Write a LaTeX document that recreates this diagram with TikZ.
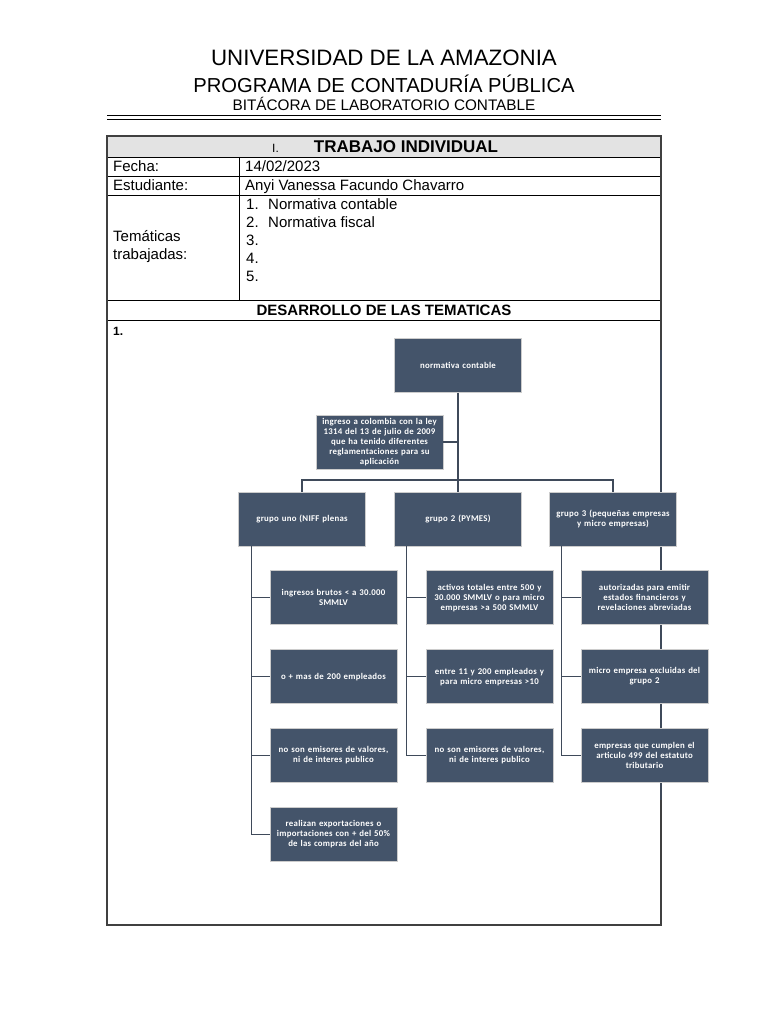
\documentclass[tikz,border=0pt]{standalone}
\usepackage{fontspec}
\setmainfont{Liberation Sans}
\newfontfamily\boxfont[LetterSpace=3]{Carlito}
\usetikzlibrary{positioning}
\definecolor{slate}{HTML}{44546A}
\definecolor{linkgray}{HTML}{3F4A5A}

\begin{document}
\begin{tikzpicture}[x=1pt, y=1pt,
  node distance=24pt and 20pt,
  box/.style={draw=white!80!black, line width=0.8pt, fill=slate, text=white, align=center, inner sep=1pt, minimum width=127pt, minimum height=54pt, text width=125pt, font=\boxfont\bfseries\fontsize{8.8}{10}\selectfont},
  link/.style={draw=linkgray, line width=1.1pt},
  cell/.style={anchor=base west, inner sep=0pt, font=\fontsize{15}{17}\selectfont},
  rule/.style={draw=black, line width=0.8pt}
]
\useasboundingbox[fill=white] (0,0) rectangle (768,-1024);

% heading
\node[font=\fontsize{22.3}{25}\selectfont] (uni) at (384,-58) {UNIVERSIDAD DE LA AMAZONIA};
\node[font=\fontsize{20.2}{23}\selectfont] (prog) at (384,-84) {PROGRAMA DE CONTADURÍA PÚBLICA};
\node[font=\fontsize{15.3}{17}\selectfont] (bit) at (384,-104) {BITÁCORA DE LABORATORIO CONTABLE};
\draw[line width=1pt] (107,-116) -- (661,-116);
\draw[line width=1pt] (107,-119.5) -- (661,-119.5);

% table
\fill[gray!22] (107,-136) rectangle (661,-157);
\foreach \yy in {157,176,195,300,320}
  \draw[rule] (107,-\yy) -- (661,-\yy);
\draw[rule] (239,-157) -- (239,-300);
\draw[draw=black!75, line width=1.6pt] (107,-136) rectangle (661,-925);

\node[anchor=base west, inner sep=0pt, font=\fontsize{12}{14}\selectfont] (roman) at (272,-153) {I.};
\node[font=\bfseries\fontsize{17}{19}\selectfont] (trab) at (406,-147) {TRABAJO INDIVIDUAL};
\node[cell] (fecha) at (113,-171.5) {Fecha:};
\node[cell] (fechav) at (245,-171.5) {14/02/2023};
\node[cell] (est) at (113,-190.5) {Estudiante:};
\node[cell] (estv) at (245,-190.5) {Anyi Vanessa Facundo Chavarro};
\node[cell] (tem) at (113,-241.5) {Temáticas};
\node[cell] (trabj) at (113,-259.5) {trabajadas:};
\foreach \i/\yy/\txt in {1/209.5/Normativa contable, 2/227/Normativa fiscal, 3/245/, 4/263/, 5/281/} {
  \node[cell] (n\i) at (246,-\yy) {\i.};
  \node[cell] (t\i) at (268,-\yy) {\txt};
}
\node[font=\bfseries\fontsize{15}{17}\selectfont] (desa) at (384,-310) {DESARROLLO DE LAS TEMATICAS};
\node[anchor=base west, inner sep=0pt, font=\bfseries\fontsize{12}{14}\selectfont] (uno) at (113,-335) {1.};

% line that runs behind the third column
\coordinate (s1) at (661,-350);
\coordinate (s2) at (661,-800);
\draw[link] (s1) -- (s2);

% chart
\node[box] (root) at (458,-365.5) {normativa contable};
\node[box] (intro) at (379.5,-442) {ingreso a colombia con la ley\\1314 del 13 de julio de 2009\\que ha tenido diferentes\\reglamentaciones para su\\aplicación};
\coordinate (hub) at (458,-480);

\node[box] (g1) at (302,-519) {grupo uno (NIFF plenas};
\node[box] (g2) at (458,-519) {grupo 2 (PYMES)};
\node[box] (g3) at (613,-519) {grupo 3 (pequeñas empresas\\y micro empresas)};

\node[box, below=24pt of g1, xshift=31.5pt] (a1) {ingresos brutos < a 30.000\\SMMLV};
\node[box, below=of a1] (a2) {o + mas de 200 empleados};
\node[box, below=of a2] (a3) {no son emisores de valores,\\ni de interes publico};
\node[box, below=of a3] (a4) {realizan exportaciones o\\importaciones con + del 50\%\\de las compras del año};

\node[box, below=24pt of g2, xshift=31.5pt] (b1) {activos totales entre 500 y\\30.000 SMMLV o para micro\\empresas >a 500 SMMLV};
\node[box, below=of b1] (b2) {entre 11 y 200 empleados y\\para micro empresas >10};
\node[box, below=of b2] (b3) {no son emisores de valores,\\ni de interes publico};

\node[box, below=24pt of g3, xshift=31.5pt] (c1) {autorizadas para emitir\\estados financieros y\\revelaciones abreviadas};
\node[box, below=of c1] (c2) {micro empresa excluidas del\\grupo 2};
\node[box, below=of c2] (c3) {empresas que cumplen el\\articulo 499 del estatuto\\tributario};

\draw[link] (root) -- (hub);
\draw[link] (intro.east) -- (intro.east -| hub);
\draw[link] (g1.north) |- (hub) -| (g3.north);
\draw[link] (hub) -- (g2.north);

\coordinate (k1) at ([xshift=13pt]g1.south west);
\coordinate (k2) at ([xshift=12pt]g2.south west);
\coordinate (k3) at ([xshift=12pt]g3.south west);
\draw[link] (k1) |- (a4.west);
\draw[link] (k2) |- (b3.west);
\draw[link] (k3) |- (c3.west);
\foreach \n in {a1,a2,a3}
  \draw[link] (\n.west) -- (\n.west -| k1);
\foreach \n in {b1,b2}
  \draw[link] (\n.west) -- (\n.west -| k2);
\foreach \n in {c1,c2}
  \draw[link] (\n.west) -- (\n.west -| k3);
\end{tikzpicture}
\end{document}
